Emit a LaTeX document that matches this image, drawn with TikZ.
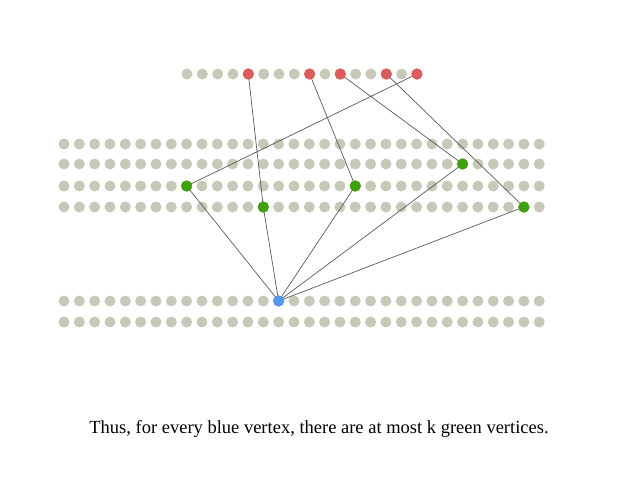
\documentclass[tikz,border=0pt]{standalone}
\usepackage{fontspec}
\setmainfont{Liberation Serif}
\definecolor{dotgray}{RGB}{200,200,186}
\definecolor{dotred}{RGB}{218,92,92}
\definecolor{dotgreen}{RGB}{62,160,10}
\definecolor{dotblue}{RGB}{86,152,240}
\begin{document}
\begin{tikzpicture}[x=1pt,y=-1pt,
  dotg/.style={circle,fill=dotgray,minimum size=11pt,inner sep=0pt},
  dotr/.style={circle,fill=dotred,minimum size=11pt,inner sep=0pt},
  dotgr/.style={circle,fill=dotgreen,minimum size=11pt,inner sep=0pt},
  dotb/.style={circle,fill=dotblue,minimum size=11pt,inner sep=0pt},
  edge/.style={draw=black!65,line width=0.7pt}]
\useasboundingbox (0,0) rectangle (638,479);
% top row
\foreach \i in {0,...,15} \node[dotg] (t\i) at (187+15.33*\i,74) {};
\foreach \i in {4,8,10,13,15} \node[dotr] (r\i) at (187+15.33*\i,74) {};
% middle rows
\foreach \r/\y in {1/144,2/164,3/186,4/207}
  \foreach \i in {0,...,31} \node[dotg] (m\r-\i) at (64+15.33*\i,\y) {};
% bottom rows
\foreach \r/\y in {1/301,2/322}
  \foreach \i in {0,...,31} \node[dotg] (b\r-\i) at (64+15.33*\i,\y) {};
\node[dotgr] (g1) at (m3-8) {};
\node[dotgr] (g2) at (m4-13) {};
\node[dotgr] (g3) at (m3-19) {};
\node[dotgr] (g4) at (m2-26) {};
\node[dotgr] (g5) at (m4-30) {};
\node[dotb] (bl) at (b1-14) {};
\draw[edge] (r4.center)--(g2.center) (r8.center)--(g3.center) (r10.center)--(g4.center)
  (r13.center)--(g5.center) (r15.center)--(g1.center);
\foreach \g in {g1,g2,g3,g4,g5} \draw[edge] (\g.center)--(bl.center);
\foreach \i in {4,8,10,13,15} \node[dotr] at (r\i) {};
\foreach \g in {g1,g2,g3,g4,g5} \node[dotgr] at (\g) {};
\node[dotb] at (bl) {};
\node[font=\fontsize{18.5}{22}\selectfont] (cap) at (319,429) {Thus, for every blue vertex, there are at most k green vertices.};
\end{tikzpicture}
\end{document}
